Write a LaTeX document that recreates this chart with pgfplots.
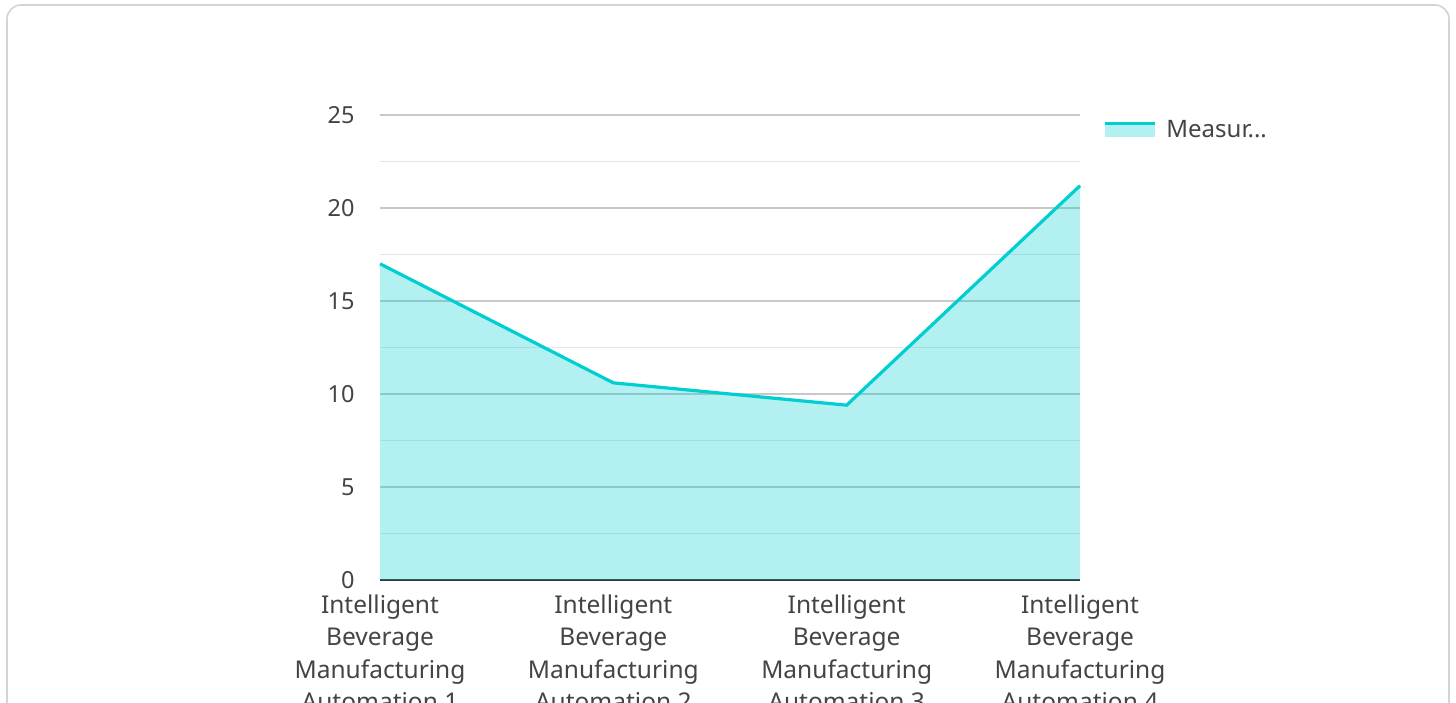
\documentclass[border=0pt]{standalone}
\usepackage{fontspec}
\setmainfont{Noto Sans}
\usepackage{pgfplots}
\pgfplotsset{compat=1.18}
\definecolor{turq}{HTML}{00CED1}
\definecolor{turqfill}{HTML}{B2F0F1}
\definecolor{labgray}{HTML}{444444}
\definecolor{gridmaj}{HTML}{C8C8C8}
\definecolor{gridmin}{HTML}{E6E6E6}
\definecolor{framegray}{HTML}{D4D4D4}
\begin{document}
\begin{tikzpicture}[x=1pt,y=1pt]
\useasboundingbox (0pt,0pt) rectangle (1456pt,702pt);
\clip (0pt,0pt) rectangle (1456pt,702pt);
\fill[white] (0pt,0pt) rectangle (1456pt,702pt);
\draw[framegray, line width=1.6pt, rounded corners=14pt] (7pt,-40pt) rectangle (1449pt,697pt);
\begin{axis}[
  at={(380pt,122pt)}, anchor=south west,
  scale only axis, width=700pt, height=465pt,
  xmin=0, xmax=3, ymin=0, ymax=25,
  xtick={0,1,2,3},
  xticklabels={{Intelligent\\Beverage\\Manufacturing\\Automation 1},
               {Intelligent\\Beverage\\Manufacturing\\Automation 2},
               {Intelligent\\Beverage\\Manufacturing\\Automation 3},
               {Intelligent\\Beverage\\Manufacturing\\Automation 4}},
  ytick={0,5,10,15,20,25},
  minor ytick={2.5,7.5,12.5,17.5,22.5},
  ymajorgrids, yminorgrids,
  major grid style={gridmaj, line width=1.2pt},
  minor grid style={gridmin, line width=1.2pt},
  major tick length=0pt, minor tick length=0pt,
  axis lines=left, axis line style={-},
  y axis line style={draw=none},
  x axis line style={draw=black!80, line width=1.8pt},
  /pgf/number format/assume math mode=true,
  yticklabel style={font=\fontsize{23.5}{28}\selectfont, text=labgray, anchor=east, xshift=-22pt},
  xticklabel style={font=\fontsize{24.5}{32.5}\selectfont, text=labgray, align=center, anchor=north, yshift=-11pt},
  clip=false,
  legend style={draw=none, fill=none, at={(1,1)}, anchor=north west,
    xshift=20pt, yshift=-1pt, font=\fontsize{24}{26}\selectfont, text=labgray,
    legend cell align=left,
    /tikz/every odd column/.append style={column sep=8pt}},
  legend image code/.code={
    \fill[turqfill, fill opacity=1] (0pt,-7pt) rectangle (50pt,6pt);
    \draw[turq, line width=3.2pt, draw opacity=1] (0pt,6pt) -- (50pt,6pt);
  },
]
\addplot[draw=none, fill=turq, fill opacity=0.3]
  coordinates {(0,17.0) (1,10.6) (2,9.4) (3,21.2)} \closedcycle;
\addlegendentry{Measur...}
\addplot[turq, line width=3.2pt, forget plot]
  coordinates {(0,17.0) (1,10.6) (2,9.4) (3,21.2)};
\end{axis}
\end{tikzpicture}
\end{document}
